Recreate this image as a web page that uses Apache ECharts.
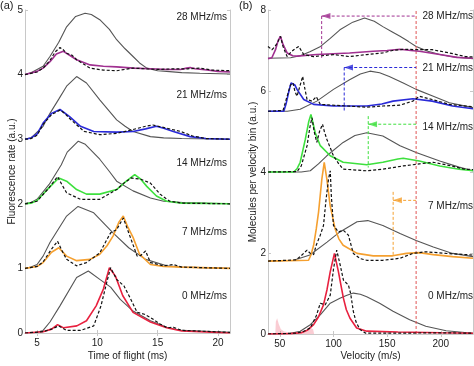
<!DOCTYPE html>
<html><head><meta charset="utf-8">
<script src="https://cdn.jsdelivr.net/npm/echarts@6/dist/echarts.min.js"></script>
<style>html,body{margin:0;padding:0;background:#fff}#c{width:474px;height:366px}</style>
</head><body><div id="c"></div>
<script>
// ---------- Panel (a): time of flight (ms) vs fluorescence rate ----------
const aXTicks = [5, 10, 15, 20];
const aYTicks = [0, 1, 2, 3, 4, 5];
const A28_gray = [[4,4.0],[4.5,4.03],[5.5,4.13],[6.07,4.28],[6.8,4.5],[7.45,4.74],[8.2,4.9],[8.98,4.95],[9.5,4.93],[10.2,4.85],[11,4.7],[11.6,4.54],[12.3,4.4],[12.96,4.28],[13.5,4.18],[14.1,4.10],[15,4.06],[15.75,4.05],[17,4.03],[18.5,4.02],[21,4.01]];
const A28_sim  = [[4,4.0],[5,4.05],[5.5,4.1],[6.07,4.2],[6.6,4.32],[7.18,4.36],[7.7,4.3],[8.28,4.23],[9.4,4.15],[10.5,4.13],[11.6,4.12],[13,4.1],[14.4,4.09],[15.8,4.08],[16.9,4.08],[17.4,4.1],[17.7,4.11],[18.1,4.09],[19.1,4.07],[20,4.05],[21,4.04]];
const A28_exp  = [[4,4.0],[5,4.04],[5.5,4.1],[6.07,4.22],[6.5,4.35],[6.9,4.42],[7.2,4.38],[7.45,4.33],[7.9,4.3],[8.28,4.23],[8.8,4.17],[9.4,4.10],[10.5,4.07],[11.6,4.06],[12.3,4.08],[12.96,4.10],[14,4.09],[15,4.08],[16.4,4.09],[17.5,4.09],[18.5,4.10],[19.5,4.07],[21,4.06]];
const A21_gray = [[4,3.0],[4.5,3.02],[5.5,3.2],[6.07,3.40],[6.8,3.62],[7.45,3.82],[8.28,3.97],[9.1,3.87],[10.2,3.61],[11.6,3.30],[12.3,3.2],[12.96,3.12],[14.4,3.04],[15.5,3.02],[17,3.01],[21,3.0]];
const A21_sim  = [[4,3.0],[4.5,3.02],[5,3.08],[5.5,3.25],[6.2,3.4],[6.9,3.46],[7.7,3.35],[8.6,3.20],[9.7,3.12],[11.6,3.11],[12.96,3.12],[14.0,3.16],[14.9,3.20],[15.5,3.17],[16.3,3.12],[17.7,3.04],[19,3.01],[21,3.0]];
const A21_exp  = [[4,3.0],[4.5,3.01],[5,3.06],[5.5,3.23],[6.2,3.38],[6.9,3.45],[7.3,3.4],[7.7,3.32],[8.9,3.12],[10.2,3.07],[11.6,3.09],[12.96,3.15],[14,3.2],[14.6,3.22],[15.75,3.17],[16.9,3.12],[17.9,3.05],[19,3.01],[21,3.0]];
const A14_gray = [[4,2.0],[4.5,2.02],[5,2.07],[6,2.3],[7,2.6],[7.5,2.8],[8.42,2.97],[9,2.92],[10.2,2.69],[11,2.5],[11.6,2.35],[12.96,2.20],[14.4,2.09],[15.5,2.04],[17.1,2.02],[21,2.0]];
const A14_sim  = [[4,2.0],[4.5,2.01],[5,2.05],[6,2.25],[6.8,2.40],[7.45,2.35],[8.28,2.22],[9.1,2.15],[10.2,2.15],[11.6,2.22],[12.4,2.35],[13.1,2.45],[13.6,2.38],[14.1,2.27],[14.9,2.12],[15.75,2.04],[17,2.01],[21,2.0]];
const A14_exp  = [[4,2.0],[5,2.04],[6,2.25],[6.7,2.42],[7.05,2.3],[7.45,2.17],[8.6,2.07],[10.2,2.07],[11.6,2.22],[12.2,2.32],[12.8,2.40],[13.6,2.38],[14.4,2.32],[15.2,2.15],[16,2.04],[17,2.01],[21,2.0]];
const A7_gray  = [[4,1.0],[4.5,1.02],[5,1.06],[5.5,1.19],[6.07,1.40],[7.45,1.81],[8.4,1.96],[9.7,1.86],[11.3,1.55],[12.6,1.32],[14,1.14],[15.75,1.04],[17,1.02],[21,1.0]];
const A7_sim   = [[4,1.0],[5,1.03],[5.5,1.09],[6.2,1.25],[6.8,1.32],[7.45,1.19],[8.28,1.12],[9.4,1.14],[10.2,1.22],[10.8,1.35],[11.3,1.50],[11.8,1.72],[12.15,1.81],[12.5,1.65],[12.96,1.48],[13.5,1.22],[14.4,1.06],[15.5,1.03],[17,1.02],[21,1.0]];
const A7_exp   = [[4,1.0],[5,1.03],[5.5,1.10],[6.2,1.3],[6.7,1.42],[7.05,1.28],[7.45,1.14],[8.28,1.04],[9.1,1.09],[10.2,1.24],[10.8,1.45],[11.1,1.55],[11.6,1.60],[12.15,1.78],[12.7,1.50],[13.3,1.19],[13.6,1.2],[14.0,1.27],[14.4,1.09],[15.5,1.04],[16.3,1.06],[17,1.02],[21,1.0]];
const A0_gray  = [[4,0],[5,0.01],[5.5,0.04],[6.07,0.17],[6.9,0.42],[8.28,0.86],[9.25,0.96],[10.2,0.83],[11.1,0.71],[11.9,0.52],[12.96,0.34],[14.4,0.19],[15.75,0.09],[17,0.04],[21,0.01]];
const A0_sim   = [[4,0],[5.5,0.02],[6.2,0.06],[6.7,0.13],[7.2,0.08],[8.3,0.11],[9.1,0.19],[9.9,0.42],[10.5,0.68],[11.0,1.01],[11.5,0.88],[12.1,0.58],[12.96,0.32],[14.4,0.17],[15.75,0.08],[17,0.03],[21,0]];
const A0_exp   = [[4,0],[5.5,0.02],[6.2,0.06],[6.8,0.11],[7.45,0.04],[8.6,0.04],[9.7,0.11],[10.3,0.42],[10.8,0.8],[11.1,1.01],[11.6,0.83],[12.2,0.73],[12.7,0.55],[13.3,0.32],[13.9,0.29],[14.4,0.24],[15.2,0.14],[15.8,0.08],[16.3,0.09],[17,0.04],[21,0.01]];

// ---------- Panel (b): velocity (m/s) vs molecules per velocity bin ----------
const bXTicks = [50, 100, 150, 200];
const bYTicks = [0, 2, 4, 6, 8];
const B28_gray = [[39,6.81],[60,6.82],[69,6.87],[78,6.97],[88,7.10],[97,7.3],[106,7.51],[118,7.7],[129,7.80],[138,7.72],[146,7.59],[154,7.47],[162,7.35],[170,7.22],[177,7.10],[188,6.98],[199,6.90],[212,6.84],[230,6.80]];
const B28_sim  = [[39,6.8],[42.6,6.82],[46,7.02],[48.5,7.25],[50.6,7.35],[53,7.15],[56.8,6.94],[62,6.87],[66,6.86],[84.5,6.90],[115,6.94],[137,6.98],[150,7.0],[162,7.03],[172,7.0],[180,6.98],[199,6.90],[215,6.83],[230,6.81]];
const B28_exp  = [[39,7.10],[42.6,7.02],[45,7.08],[48,7.2],[50.6,7.35],[53,7.1],[56.8,6.85],[60,6.95],[63,7.02],[67.6,7.10],[72.3,6.90],[81.5,6.85],[100,6.90],[115,6.85],[131,6.90],[146,6.94],[155,7.0],[165,7.03],[180,7.02],[192,7.02],[208,6.94],[223,6.85],[230,6.84]];
const B21_gray = [[39,5.5],[57,5.5],[69,5.55],[84.5,5.75],[100,6.04],[115,6.28],[125,6.42],[134,6.49],[143,6.45],[152,6.36],[165,6.2],[177,6.04],[193,5.87],[208,5.71],[230,5.59]];
const B21_sim  = [[39,5.5],[53.7,5.5],[56,5.7],[58.5,6.0],[60.5,6.2],[62.3,6.24],[64,6.15],[66,6.04],[72.3,5.79],[81.5,5.67],[100,5.63],[131,5.63],[145,5.68],[155.5,5.75],[174,5.81],[192,5.75],[211,5.63],[230,5.56]];
const B21_exp  = [[39,5.5],[53,5.52],[56.8,5.87],[60,6.15],[62.3,6.20],[64,6.0],[66,5.87],[68.5,6.1],[71.3,6.36],[73,6.1],[75.4,5.79],[80,5.75],[84,5.86],[87.7,5.67],[100,5.65],[131,5.60],[146,5.63],[162,5.65],[174,5.75],[180,5.87],[192,5.79],[208,5.67],[230,5.61]];
const B14_gray = [[39,4.0],[70,4.0],[78.4,4.03],[86,4.2],[93.8,4.40],[109,4.73],[120,4.9],[131,4.97],[146,4.89],[162,4.65],[177,4.48],[199,4.27],[217,4.12],[230,4.03]];
const B14_sim  = [[39,4.0],[63,4.0],[66,4.08],[69,4.24],[73.8,4.81],[77,5.25],[79,5.42],[81,5.2],[83,4.97],[87.7,4.65],[97,4.40],[109,4.24],[131,4.18],[146,4.24],[160,4.32],[165,4.34],[180,4.27],[199,4.15],[217,4.07],[230,4.03]];
const B14_exp  = [[39,4.0],[66,4.01],[70,4.15],[75.4,4.65],[78,5.1],[80,5.34],[82,5.0],[84.5,4.73],[87,5.0],[89.8,5.18],[91.5,5.0],[93.8,4.81],[100,4.40],[105,4.2],[109,4.07],[131,4.03],[146,4.07],[165,4.15],[180,4.20],[193,4.24],[210,4.15],[222,4.07],[230,4.06]];
const B7_gray  = [[39,1.8],[63,1.82],[78,1.95],[94,2.27],[106,2.52],[122,2.77],[132,2.80],[146,2.68],[162,2.48],[177,2.31],[193,2.15],[211,1.99],[230,1.91]];
const B7_sim   = [[39,1.8],[76.8,1.82],[79,1.95],[81.5,2.19],[84,2.6],[86.1,3.01],[89.2,3.83],[91.4,4.24],[93.8,3.83],[96.9,3.17],[101.5,2.60],[105,2.35],[109,2.19],[122,1.99],[137,1.93],[155,1.93],[168,1.99],[180,2.01],[193,1.96],[211,1.91],[230,1.87]];
const B7_exp   = [[39,1.8],[65,1.83],[69,1.91],[75.4,2.07],[78,2.0],[81.5,1.96],[84,2.2],[87.7,2.44],[90.7,2.68],[93,3.3],[95.4,3.83],[97,4.03],[98,3.42],[100,2.68],[104.6,2.52],[109.3,2.56],[113.9,2.44],[118.5,1.99],[125,1.86],[131,1.82],[146,1.82],[162,1.87],[174,1.99],[186,2.03],[205,1.99],[230,1.95]];
const B0_gray  = [[39,0],[50,0],[60,0.02],[69,0.07],[78.4,0.23],[87.7,0.47],[97,0.76],[106,0.88],[112,0.95],[118.5,1.01],[125,0.98],[131,0.92],[143,0.76],[155.5,0.56],[171,0.35],[186,0.19],[205,0.08],[230,0.02]];
const B0_sim   = [[39,0],[60,0.01],[70,0.03],[76,0.1],[81.5,0.23],[86,0.42],[90.7,0.72],[94,1.1],[97,1.54],[100.9,1.99],[104.6,1.54],[107,1.2],[109.3,0.88],[112,0.6],[115.4,0.39],[121.6,0.15],[131,0.07],[160,0.05],[200,0.03],[230,0.02]];
const B0_exp   = [[39,0],[65,0.02],[72,0.06],[78.4,0.15],[84,0.45],[87.7,0.76],[92.3,0.72],[97,0.96],[100,1.6],[103,2.07],[106.2,1.71],[109.3,1.33],[113.9,1.21],[116,1.0],[118.5,0.56],[121,0.3],[124.7,0.11],[130,0.02],[160,0.02],[200,0.03],[230,0.02]];
const B0_fill  = [[45.8,0],[46.3,0.3],[47.5,0.39],[49,0.25],[51,0.12],[54,0.06],[60,0.04],[66,0.04],[72,0.06],[76,0.1],[79,0.15],[81,0.12],[82,0]];
// cutoff velocity (vertical red dashed) and arrows
const cutoffV = 177;
const arrows = [
  {v:89,    y:7.85, top:7.85, bot:6.82, color:'#a03090'},
  {v:110,   y:6.58, top:6.58, bot:5.50, color:'#2a2ad8'},
  {v:132.4, y:5.18, top:5.38, bot:4.11, color:'#3ee03e'},
  {v:155.6, y:3.30, top:3.51, bot:1.91, color:'#f5a030'}
];
const rates = ['28 MHz/ms','21 MHz/ms','14 MHz/ms','7 MHz/ms','0 MHz/ms'];
const colors = ['#a03090','#2a2ad8','#3ee03e','#f5a030','#e8213f'];

const FONT = 'Liberation Sans';
const chart = echarts.init(document.getElementById('c'));

function ln(gi, data, color, width, dash, z) {
  return {type:'line', xAxisIndex:gi, yAxisIndex:gi, data:data, symbol:'none', silent:true,
    lineStyle:{color:color, width:width, type: dash ? [3,2] : 'solid'}, z:z, animation:false};
}
function xAx(gi, min, max, ticks, name, gap) {
  return {type:'value', gridIndex:gi, min:min, max:max, name:name, nameLocation:'middle', nameGap:gap, nameMoveOverlap:false,
    nameTextStyle:{fontFamily:FONT, fontSize:10, color:'#222', verticalAlign:'top'},
    axisLine:{lineStyle:{color:'#c8c8c8'}}, splitLine:{show:false},
    axisTick:{inside:true, length:3, lineStyle:{color:'#c8c8c8'}, customValues:ticks},
    axisLabel:{fontFamily:FONT, fontSize:10, color:'#222', margin:5, customValues:ticks}};
}
function xTop(gi, min, max, ticks) {
  return {type:'value', gridIndex:gi, min:min, max:max, position:'top',
    axisLine:{lineStyle:{color:'#c8c8c8'}}, splitLine:{show:false},
    axisTick:{inside:true, length:3, lineStyle:{color:'#c8c8c8'}, customValues:ticks},
    axisLabel:{show:false, customValues:ticks}};
}
function yAx(gi, min, max, interval, name, gap) {
  return {type:'value', gridIndex:gi, min:min, max:max, interval:interval, name:name, nameLocation:'middle', nameGap:gap, nameMoveOverlap:false,
    nameTextStyle:{fontFamily:FONT, fontSize:10, color:'#222'},
    axisLine:{show:true, lineStyle:{color:'#c8c8c8'}}, splitLine:{show:false},
    axisTick:{inside:true, length:3, lineStyle:{color:'#c8c8c8'}},
    axisLabel:{fontFamily:FONT, fontSize:10, color:'#222', margin:2}};
}
function yRight(gi, min, max, interval) {
  return {type:'value', gridIndex:gi, min:min, max:max, interval:interval, position:'right',
    axisLine:{show:true, lineStyle:{color:'#c8c8c8'}}, splitLine:{show:false},
    axisTick:{inside:true, length:3, lineStyle:{color:'#c8c8c8'}},
    axisLabel:{show:false}};
}

const aSets = [[A28_gray,A28_sim,A28_exp],[A21_gray,A21_sim,A21_exp],[A14_gray,A14_sim,A14_exp],[A7_gray,A7_sim,A7_exp],[A0_gray,A0_sim,A0_exp]];
const bSets = [[B28_gray,B28_sim,B28_exp],[B21_gray,B21_sim,B21_exp],[B14_gray,B14_sim,B14_exp],[B7_gray,B7_sim,B7_exp],[B0_gray,B0_sim,B0_exp]];

const series = [];
series.push({type:'line', xAxisIndex:1, yAxisIndex:1, data:B0_fill, symbol:'none', silent:true, animation:false,
  lineStyle:{width:0}, areaStyle:{color:'rgba(240,110,130,0.5)'}, z:1});
aSets.forEach((s,i)=>{
  series.push(ln(0, s[0], '#555', 1.1, false, 2));
  series.push(ln(0, s[1], colors[i], 1.6, false, 3));
  series.push(ln(0, s[2], '#111', 1.2, true, 4));
});
bSets.forEach((s,i)=>{
  series.push(ln(1, s[0], '#555', 1.1, false, 2));
  series.push(ln(1, s[1], colors[i], 1.6, false, 3));
  series.push(ln(1, s[2], '#111', 1.2, true, 4));
});
series.push(ln(1, [[cutoffV,0],[cutoffV,8]], '#e05555', 1, true, 2));
arrows.forEach(a=>{
  series.push(ln(1, [[a.v,a.y],[cutoffV,a.y]], a.color, 1, true, 5));
  series.push(ln(1, [[a.v,a.top],[a.v,a.bot]], a.color, 1, true, 5));
  series.push({type:'scatter', xAxisIndex:1, yAxisIndex:1, data:[[a.v+4,a.y]], symbol:'triangle',
    symbolSize:[6,9], symbolRotate:90, itemStyle:{color:a.color}, silent:true, animation:false, z:6});
});

const aLabelY = [17, 95, 163, 232, 296];
const bLabelY = [16, 68, 127, 206, 296];
const graphic = [
  {type:'text', left:0, top:0, style:{text:'(a)', font:'11px '+FONT, fill:'#222'}},
  {type:'text', left:239, top:0, style:{text:'(b)', font:'11px '+FONT, fill:'#222'}}
];
rates.forEach((r,i)=>{
  graphic.push({type:'text', x:227, y:aLabelY[i], style:{text:r, font:'10px '+FONT, fill:'#222', align:'right', verticalAlign:'middle'}});
  graphic.push({type:'text', x:473, y:bLabelY[i], style:{text:r, font:'10px '+FONT, fill:'#222', align:'right', verticalAlign:'middle'}});
});

chart.setOption({
  animation:false,
  backgroundColor:'#fff',
  grid:[
    {left:25, top:10, width:205, height:325},
    {left:268, top:10, width:205, height:326}
  ],
  xAxis:[xAx(0,4,21,aXTicks,'Time of flight (ms)',18), xAx(1,39,230,bXTicks,'Velocity (m/s)',17),
         xTop(0,4,21,aXTicks), xTop(1,39,230,bXTicks)],
  yAxis:[yAx(0,0,5,1,'Fluorescence rate (a.u.)',8), yAx(1,0,8,2,'Molecules per velocity bin (a.u.)',10),
         yRight(0,0,5,1), yRight(1,0,8,2)],
  series:series,
  graphic:graphic
});
</script></body></html>
